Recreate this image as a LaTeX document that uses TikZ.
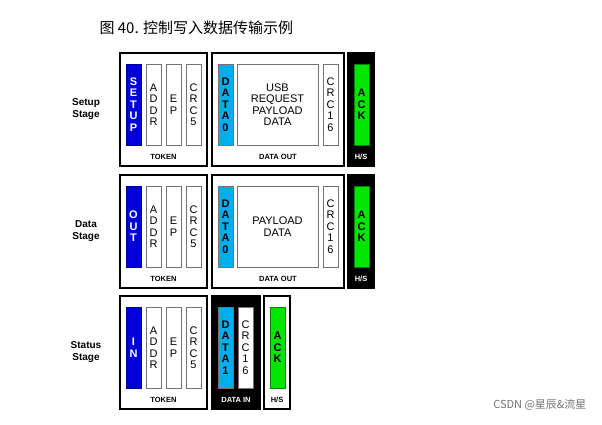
\documentclass[tikz,border=0pt]{standalone}
\usepackage{fontspec}
\setmainfont{Liberation Sans}
\newfontfamily\cjk{Noto Sans CJK SC}
\begin{document}
\begin{tikzpicture}[x=1pt,y=-1pt,
  frame/.style={draw=black,line width=1.6pt,fill=white},
  blackframe/.style={draw=black,line width=1.6pt,fill=black},
  field/.style={draw=black!55,line width=0.6pt,fill=white,inner sep=0pt,align=center,font=\fontsize{11}{11.5}\selectfont},
  pid/.style={field,fill=blue!85!black,draw=blue!60!black,text=white,font=\bfseries\fontsize{11}{11.5}\selectfont},
  dpid/.style={field,fill=cyan,draw=black!55,font=\bfseries\fontsize{11}{11.5}\selectfont},
  ack/.style={field,fill=green!90!black,draw=green!50!black,font=\bfseries\fontsize{11}{11.5}\selectfont},
  caplbl/.style={font=\bfseries\fontsize{7.5}{8}\selectfont},
  stagelbl/.style={font=\bfseries\fontsize{10}{12}\selectfont,align=center}]
\useasboundingbox (0,0) rectangle (602,424);
\node[anchor=west,font=\cjk\fontsize{15}{16}\selectfont] (title) at (96,28) {图 40. 控制写入数据传输示例};
\node[anchor=east,font=\cjk\fontsize{11}{12}\selectfont,text=black!55] (wm) at (590,405) {CSDN @星辰\&流星};
% rows
\foreach \r/\y/\nm in {1/53/Setup,2/175/Data,3/296/Status}{
  \node[stagelbl] (st\r) at (86,\y+56) {\nm\\Stage};
  \draw[frame] (120,\y) rectangle (207,\y+113);
  \node[caplbl] (tok\r) at (163.5,\y+104) {TOKEN};
  \node[field,minimum width=15pt,minimum height=81pt] (addr\r) at (153.5,\y+51.5) {A\\D\\D\\R};
  \node[field,minimum width=15pt,minimum height=81pt] (ep\r) at (173.5,\y+51.5) {E\\P};
  \node[field,minimum width=15pt,minimum height=81pt] (crc\r) at (193.5,\y+51.5) {C\\R\\C\\5};
}
\node[pid,minimum width=15pt,minimum height=81pt] (pid1) at (133.5,104.5) {S\\E\\T\\U\\P};
\node[pid,minimum width=15pt,minimum height=81pt] (pid2) at (133.5,226.5) {O\\U\\T};
\node[pid,minimum width=15pt,minimum height=81pt] (pid3) at (133.5,347.5) {I\\N};
% data out rows
\foreach \r/\y in {1/53,2/175}{
  \draw[frame] (212,\y) rectangle (344,\y+113);
  \node[caplbl] (dout\r) at (278,\y+104) {DATA OUT};
  \node[dpid,minimum width=15pt,minimum height=81pt] (d\r) at (225.5,\y+51.5) {D\\A\\T\\A\\0};
  \node[field,minimum width=15pt,minimum height=81pt] (crcb\r) at (330.5,\y+51.5) {C\\R\\C\\1\\6};
  \draw[blackframe] (348,\y) rectangle (374,\y+113);
  \node[caplbl,text=white] (hs\r) at (361,\y+104) {H/S};
  \node[ack,minimum width=15pt,minimum height=81pt] (ack\r) at (361.5,\y+51.5) {A\\C\\K};
}
\node[field,minimum width=81pt,minimum height=81pt] (pl1) at (277.5,104.5) {USB\\REQUEST\\PAYLOAD\\DATA};
\node[field,minimum width=81pt,minimum height=81pt] (pl2) at (277.5,226.5) {PAYLOAD\\DATA};
% status row
\draw[blackframe] (212,296) rectangle (260,409);
\node[caplbl,text=white] (din) at (236,400) {DATA IN};
\node[dpid,minimum width=15pt,minimum height=81pt] (d3) at (225.5,347.5) {D\\A\\T\\A\\1};
\node[field,minimum width=15pt,minimum height=81pt] (crcb3) at (245.5,347.5) {C\\R\\C\\1\\6};
\draw[frame] (264,296) rectangle (290,409);
\node[caplbl] (hs3) at (277,400) {H/S};
\node[ack,minimum width=15pt,minimum height=81pt] (ack3) at (277.5,347.5) {A\\C\\K};
\end{tikzpicture}
\end{document}
